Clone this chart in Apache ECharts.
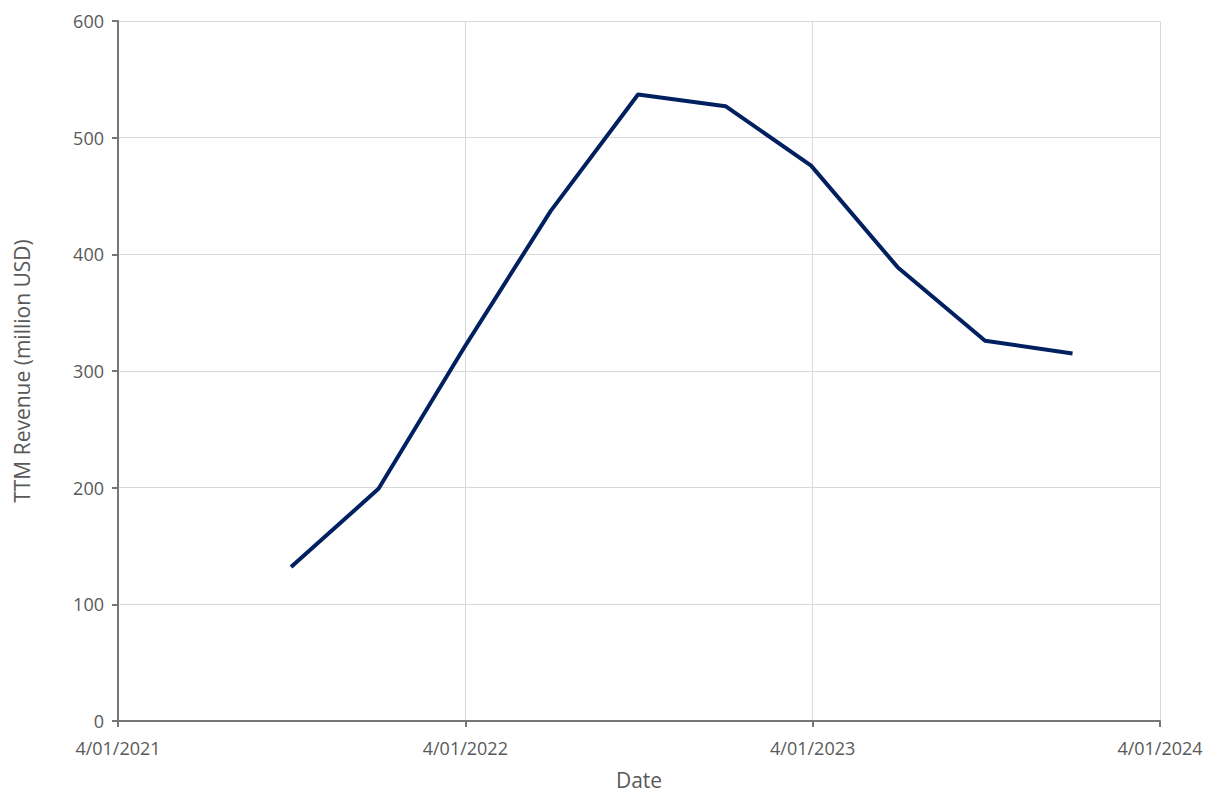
<!DOCTYPE html>
<html>
<head>
<meta charset="utf-8">
<script src="https://cdn.jsdelivr.net/npm/echarts@6/dist/echarts.min.js"></script>
<style>html,body{margin:0;padding:0;background:#fff}#chart{width:1222px;height:799px}</style>
</head>
<body>
<div id="chart"></div>
<script>
// quarter-end dates and TTM revenue (million USD)
const dates = ['2021-09-30', '2021-12-31', '2022-03-31', '2022-06-30', '2022-09-30',
    '2022-12-31', '2023-03-31', '2023-06-30', '2023-09-30', '2023-12-31'];
const revenue = [132, 199, 320, 437, 537, 527, 476, 389, 326, 315];
const tickYears = [2021, 2022, 2023, 2024];

const origin = Date.UTC(2021, 3, 1);
const dayMs = 86400000;
const span = (Date.UTC(2024, 3, 1) - origin) / dayMs;
const toDays = s => (Date.parse(s + 'T00:00:00Z') - origin) / dayMs;

const font = '"Open Sans", "Noto Sans", sans-serif';
const chart = echarts.init(document.getElementById('chart'), null, { renderer: 'svg' });
chart.setOption({
    animation: false,
    textStyle: { fontFamily: font },
    grid: { left: 118, right: 62, top: 21, bottom: 78 },
    xAxis: {
        type: 'value',
        min: 0,
        max: span,
        interval: span / 3,
        name: 'Date',
        nameLocation: 'middle',
        nameGap: 48,
        nameTextStyle: { color: '#595959', fontSize: 21, fontFamily: font },
        axisLine: { show: true, lineStyle: { color: '#767676', width: 2 } },
        axisTick: { show: true, length: 6, lineStyle: { color: '#767676', width: 2 } },
        axisLabel: {
            color: '#595959', fontSize: 18, margin: 18,
            formatter: v => '4/01/' + tickYears[Math.round(v / (span / 3))]
        },
        splitLine: { show: true, lineStyle: { color: '#d9d9d9', width: 1 } }
    },
    yAxis: {
        type: 'value',
        min: 0,
        max: 600,
        interval: 100,
        name: 'TTM Revenue (million USD)',
        nameLocation: 'middle',
        nameGap: 86,
        nameTextStyle: { color: '#595959', fontSize: 21, fontFamily: font },
        axisLine: { show: true, lineStyle: { color: '#767676', width: 2 } },
        axisTick: { show: true, length: 6, lineStyle: { color: '#767676', width: 2 } },
        axisLabel: { color: '#595959', fontSize: 18, margin: 14 },
        splitLine: { show: true, lineStyle: { color: '#d9d9d9', width: 1 } }
    },
    series: [{
        type: 'line',
        data: dates.map((d, i) => [toDays(d), revenue[i]]),
        showSymbol: false,
        lineStyle: { color: '#002060', width: 4, join: 'round' }
    }]
});
</script>
</body>
</html>
